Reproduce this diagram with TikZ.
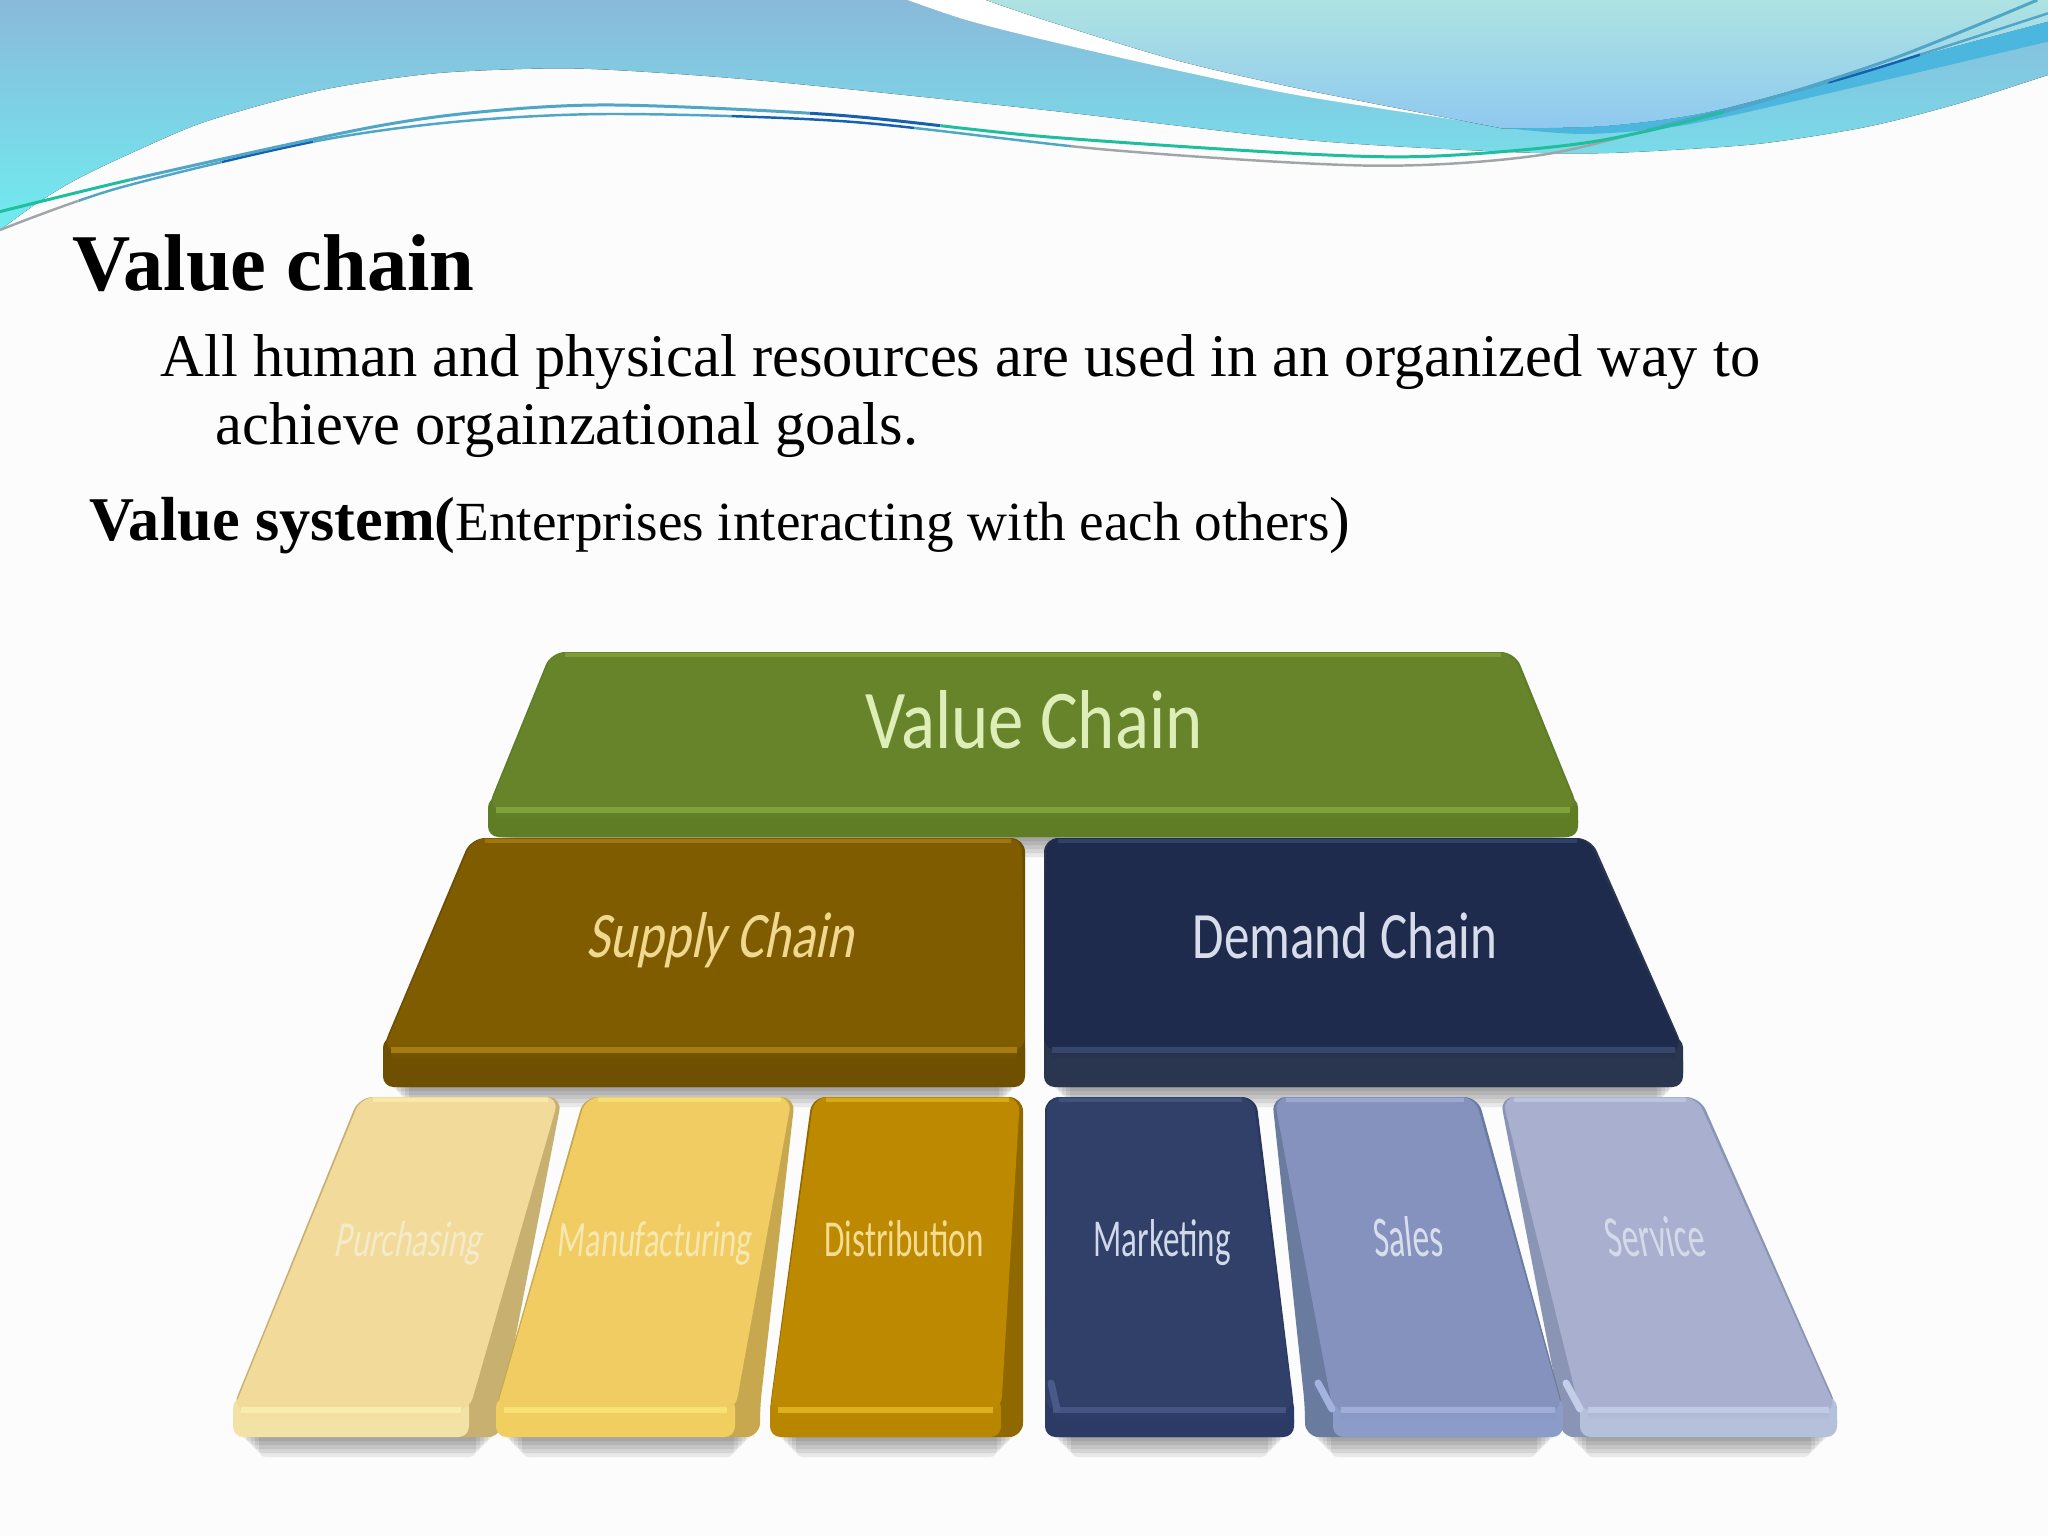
\documentclass[tikz,border=0pt]{standalone}
\usepackage{fontspec}
\setmainfont{Liberation Serif}
\newfontfamily\chainfont{Carlito}
\definecolor{page-bg}{HTML}{FCFCFD}
\definecolor{swoosh-top}{HTML}{8AB9DA}
\definecolor{swoosh-bottom}{HTML}{70ECF0}
\definecolor{lens-top}{HTML}{AEE3E2}
\definecolor{lens-bottom}{HTML}{8FC9EF}
\definecolor{band}{HTML}{4BB7DF}
\definecolor{line-green}{HTML}{1FBE9C}
\definecolor{line-teal}{HTML}{4FA6C6}
\definecolor{line-blue}{HTML}{1560B0}
\definecolor{line-grey}{HTML}{A0A6A8}
% block colours: face, side, front, light, text
\definecolor{value-face}{HTML}{67842A}
\definecolor{value-side}{HTML}{5F7D25}
\definecolor{value-front}{HTML}{5F7D25}
\definecolor{value-light}{HTML}{86A83E}
\definecolor{value-text}{HTML}{DDEEB8}
\definecolor{supply-face}{HTML}{805C00}
\definecolor{supply-side}{HTML}{6B4E00}
\definecolor{supply-front}{HTML}{6E5000}
\definecolor{supply-light}{HTML}{AE8214}
\definecolor{supply-text}{HTML}{F0D890}
\definecolor{demand-face}{HTML}{1F2B4D}
\definecolor{demand-side}{HTML}{2A3550}
\definecolor{demand-front}{HTML}{2A3550}
\definecolor{demand-light}{HTML}{3B4C72}
\definecolor{demand-text}{HTML}{D8DDEC}
\definecolor{purchasing-face}{HTML}{F1DA9A}
\definecolor{purchasing-side}{HTML}{C8B070}
\definecolor{purchasing-front}{HTML}{F3E2A5}
\definecolor{purchasing-light}{HTML}{FBF0B0}
\definecolor{purchasing-text}{HTML}{F5EBC8}
\definecolor{manufacturing-face}{HTML}{F0CC62}
\definecolor{manufacturing-side}{HTML}{C8A84F}
\definecolor{manufacturing-front}{HTML}{F0CE60}
\definecolor{manufacturing-light}{HTML}{FBE678}
\definecolor{manufacturing-text}{HTML}{F8E8B0}
\definecolor{distribution-face}{HTML}{BC8900}
\definecolor{distribution-side}{HTML}{8F6800}
\definecolor{distribution-front}{HTML}{B88600}
\definecolor{distribution-light}{HTML}{E5B820}
\definecolor{distribution-text}{HTML}{F5DC90}
\definecolor{marketing-face}{HTML}{314069}
\definecolor{marketing-side}{HTML}{2A3860}
\definecolor{marketing-front}{HTML}{2C3A66}
\definecolor{marketing-light}{HTML}{4A5A88}
\definecolor{marketing-text}{HTML}{D0D8EA}
\definecolor{sales-face}{HTML}{8492BD}
\definecolor{sales-side}{HTML}{6A7BA0}
\definecolor{sales-front}{HTML}{8C9CC8}
\definecolor{sales-light}{HTML}{A3B3DE}
\definecolor{sales-text}{HTML}{D8DEEE}
\definecolor{service-face}{HTML}{A9B0CF}
\definecolor{service-side}{HTML}{8A94B5}
\definecolor{service-front}{HTML}{B5C0DB}
\definecolor{service-light}{HTML}{C3CFE8}
\definecolor{service-text}{HTML}{D5DAEA}
\tikzset{
  slide-text/.style={anchor=base west, inner sep=0pt, text=black},
  chain-label/.style={anchor=base, inner sep=0pt, transform shape, font=\chainfont},
}
\newcommand{\blockrow}[3]{\def\blocktop{#1}\def\blockface{#2}\def\blockbottom{#3}}
% colour prefix, top left, top right, bottom right, bottom left, left and right inset of the face
\newcommand{\chainblock}[7]{%
\foreach \h in {0,4,...,20} {
  \fill[black, opacity=0.08, rounded corners=2pt] ({#5+6+\h},{\blockbottom-6}) rectangle ({#4-6-\h},{\blockbottom+\h});
}
\fill[#1-side, rounded corners=4pt] (#2,\blocktop) -- (#3,\blocktop) -- (#4,\blockface) -- (#4,\blockbottom) -- (#5,\blockbottom) -- (#5,\blockface) -- cycle;
\fill[#1-front, rounded corners=3pt] ({#5+#6},{\blockface-10}) rectangle ({#4-#7},\blockbottom);
\fill[#1-face, rounded corners=4pt] ({#2+2},\blocktop) -- ({#3-3},\blocktop) -- ({#4-#7},{\blockface+4}) -- ({#5+#6},{\blockface+4}) -- cycle;
\shade[top color=#1-face, bottom color=#1-front] ({#5+#6+8},{\blockface-3}) rectangle ({#4-#7-8},{\blockface+13});
\draw[#1-light, line width=1.5pt, opacity=0.85] ({#5+#6+8},{\blockface+3}) -- ({#4-#7-8},{\blockface+3});
\draw[#1-light, line width=1.4pt, opacity=0.7] ({#2+14},{\blocktop+3}) -- ({#3-14},{\blocktop+3});
}
\newcommand{\chainsheen}[3]{%
\draw[#1-light, line width=2pt, line cap=round] (#2,{\blockface-24}) -- ({#2+#3},{\blockface+2});
}
\newcommand{\chainlabel}[8][0]{%
\begin{scope}[shift={(#3,#4)},xslant=#1]
\node[chain-label, text=#7-text] (#2) at (0,0) {\resizebox{#5cm}{#6cm}{#8}};
\end{scope}
}
\newcommand{\swooshline}[3]{%
\begin{scope}
\clip (#1,0) rectangle (#2,760);
\draw[#3] plot[smooth] coordinates {\linepoints};
\end{scope}
}
\begin{document}
\begin{tikzpicture}[x=0.01cm, y=-0.01cm]
\useasboundingbox (0,0) rectangle (2048,1536);
\fill[page-bg] (0,0) rectangle (2048,1536);
% header
\begin{scope}[xscale=1.306, yscale=0.3333]
\fill[top color=swoosh-top, bottom color=swoosh-bottom] (0,0) -- (1568,0) -- (1568,225)
  -- plot[smooth] coordinates {(1568,225) (1500,310) (1430,380) (1350,430) (1280,450) (1220,460) (1150,455) (1000,420) (800,330) (600,248) (500,217) (430,205) (350,215) (300,235) (250,267) (200,315) (150,375) (100,460) (60,535) (30,605) (0,690)} -- cycle;
\fill[white] plot[smooth] coordinates {(695,0) (740,60) (800,120) (900,210) (1000,290) (1150,380)} -- (1000,270) -- (755,0) -- cycle;
\fill[top color=lens-top, bottom color=lens-bottom] plot[smooth] coordinates {(755,0) (800,60) (900,180) (1000,270) (1150,385)}
  -- plot[smooth] coordinates {(1155,385) (1230,378) (1310,335) (1420,220) (1568,65)} -- (1568,0) -- cycle;
\fill[band] plot[smooth] coordinates {(1155,385) (1230,378) (1310,335) (1420,220) (1568,65)}
  -- plot[smooth] coordinates {(1568,125) (1400,280) (1290,375) (1215,402) (1155,385)} -- cycle;
\def\linepoints{(0,690) (90,565) (240,425) (350,365) (470,342) (650,365) (850,450) (1050,497) (1180,465) (1290,360) (1420,225) (1568,40)}
\foreach \xa/\xb/\linecolor in {0/60/line-grey,60/170/line-teal,170/240/line-blue,240/560/line-teal,560/700/line-blue,700/820/line-teal,820/1260/line-grey,1260/1400/line-teal,1400/1470/line-blue,1470/1568/line-teal} {
  \swooshline{\xa}{\xb}{line width=0.7pt, \linecolor}
}
\def\linepoints{(0,635) (110,530) (280,385) (370,335) (470,315) (640,345) (800,410) (1000,462) (1100,468) (1220,425) (1330,325) (1450,175) (1560,0)}
\foreach \xa/\xb/\linecolor in {0/100/line-green,100/620/line-teal,620/720/line-blue,720/1320/line-green,1320/1568/line-teal} {
  \swooshline{\xa}{\xb}{line width=0.85pt, \linecolor}
}
\end{scope}
% text
\node[slide-text, font=\bfseries\fontsize{22.9}{26}\selectfont] (title) at (72,290) {Value chain};
\node[slide-text, font=\fontsize{17.2}{20}\selectfont] (bodyfirst) at (160,376) {All human and physical resources are used in an organized way to};
\node[slide-text, font=\fontsize{17.2}{20}\selectfont] (bodysecond) at (215,444) {achieve orgainzational goals.};
\node[slide-text, font=\fontsize{17.7}{20}\selectfont] (system) at (89,540) {\textbf{Value system(}\fontsize{15.7}{18}\selectfont Enterprises interacting with each others\fontsize{17.7}{20}\selectfont)};
% top row
\blockrow{652}{807}{837}
\chainblock{value}{551}{1515}{1578}{488}{0}{0}
\chainlabel{valuelabel}{1034}{748}{3.37}{0.58}{value}{Value Chain}
% middle row
\blockrow{838}{1047}{1087}
\chainblock{supply}{471}{1025}{1025}{383}{0}{0}
\chainblock{demand}{1044}{1591}{1683}{1044}{0}{0}
\chainlabel[0.2]{supplylabel}{720}{957}{2.67}{0.45}{supply}{Supply Chain}
\chainlabel{demandlabel}{1345}{958}{3.04}{0.46}{demand}{Demand Chain}
% bottom row
\blockrow{1097}{1407}{1437}
\chainblock{purchasing}{359}{562}{502}{233}{0}{33}
\chainblock{manufacturing}{584}{795}{760}{496}{0}{25}
\chainblock{distribution}{812}{1023}{1023}{770}{0}{22}
\chainblock{service}{1500}{1700}{1837}{1560}{20}{0}
\chainblock{sales}{1272}{1478}{1563}{1305}{28}{0}
\chainblock{marketing}{1045}{1256}{1294}{1045}{0}{0}
\chainsheen{marketing}{1051}{6}
\chainsheen{sales}{1318}{14}
\chainsheen{service}{1566}{14}
\chainlabel[0.2]{purchasinglabel}{407}{1256}{1.46}{0.35}{purchasing}{Purchasing}
\chainlabel[0.1]{manufacturinglabel}{654}{1256}{1.94}{0.35}{manufacturing}{Manufacturing}
\chainlabel{distributionlabel}{904}{1256}{1.59}{0.36}{distribution}{Distribution}
\chainlabel{marketinglabel}{1162}{1256}{1.37}{0.37}{marketing}{Marketing}
\chainlabel[-0.1]{saleslabel}{1410}{1256}{0.69}{0.40}{sales}{Sales}
\chainlabel[-0.2]{servicelabel}{1659}{1256}{0.98}{0.40}{service}{Service}
\end{tikzpicture}
\end{document}
